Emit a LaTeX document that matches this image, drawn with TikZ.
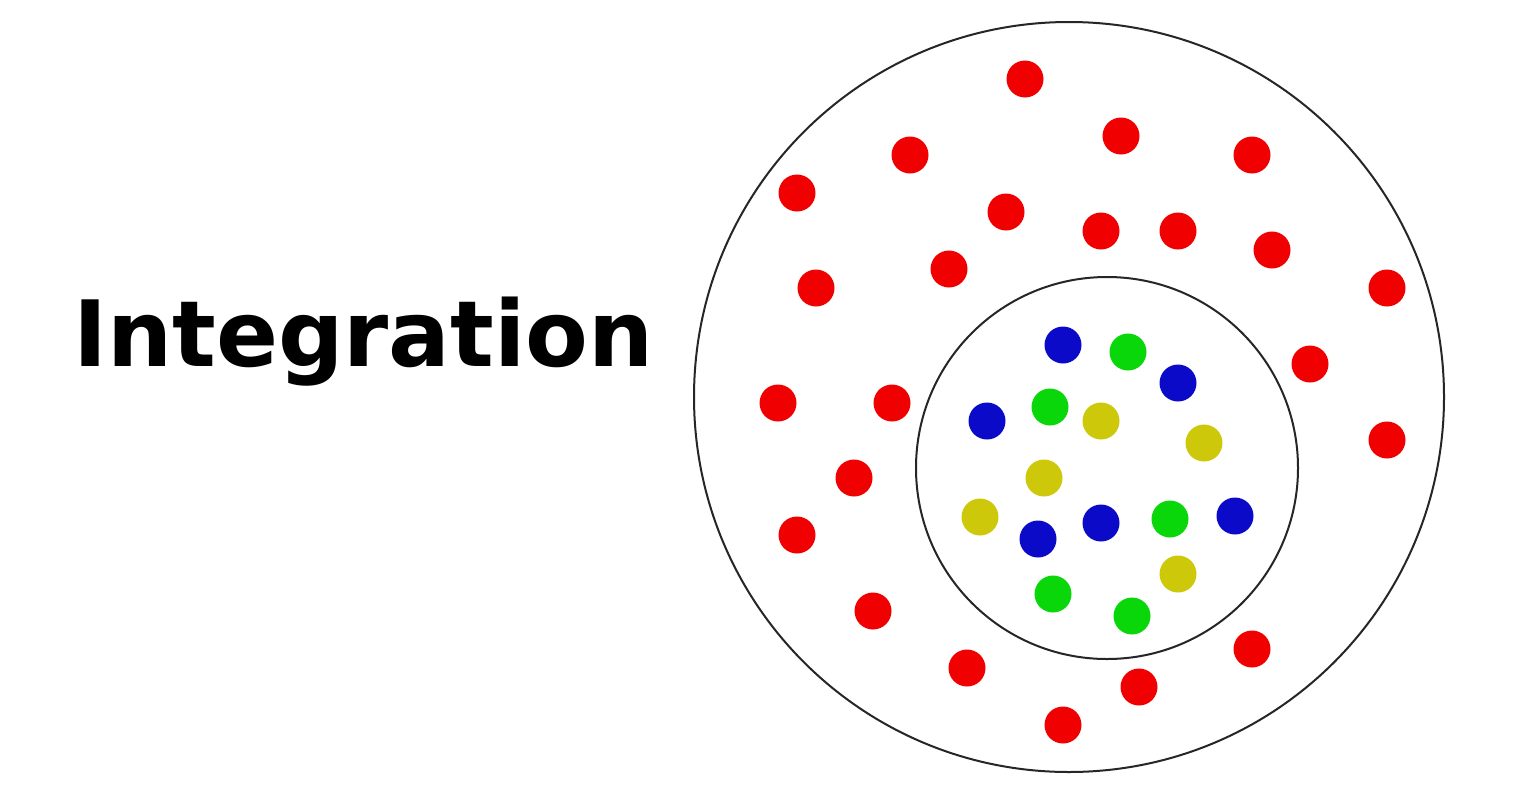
\documentclass[tikz,border=0pt]{standalone}
\usepackage{fontspec}
\newfontfamily\labelfont{DejaVu Sans}
\definecolor{dred}{RGB}{240,0,0}
\definecolor{dblue}{RGB}{10,10,200}
\definecolor{dgreen}{RGB}{10,215,10}
\definecolor{dyellow}{RGB}{205,200,10}
\tikzset{
  ring/.style={draw=black!85, line width=2pt},
  rdot/.style={circle, fill=dred, minimum size=37pt, inner sep=0pt},
  bdot/.style={circle, fill=dblue, minimum size=37pt, inner sep=0pt},
  gdot/.style={circle, fill=dgreen, minimum size=37pt, inner sep=0pt},
  ydot/.style={circle, fill=dyellow, minimum size=37pt, inner sep=0pt},
}
\begin{document}
\begin{tikzpicture}[x=1pt,y=-1pt]
\useasboundingbox[fill=white] (0,0) rectangle (1520,798);
\node[anchor=base west, inner sep=0pt, font=\labelfont\bfseries\fontsize{91.5}{100}\selectfont] (title) at (73,366) {Integration};
\draw[ring] (1069,397) ellipse [x radius=375, y radius=375];
\draw[ring] (1107,468) circle [radius=191];
% red
\foreach \x/\y [count=\i] in {1025/79,1121/136,910/155,1252/155,797/193,1006/212,1101/231,1178/231,1272/250,949/269,816/288,1387/288,1310/364,778/403,892/403,1387/440,854/478,797/535,873/611,1252/649,967/668,1139/687,1063/725}
  \node[rdot] (r\i) at (\x,\y) {};
% blue
\foreach \x/\y [count=\i] in {1063/345,1178/383,987/421,1101/523,1038/539,1235/516}
  \node[bdot] (b\i) at (\x,\y) {};
% green
\foreach \x/\y [count=\i] in {1128/352,1050/407,1170/519,1053/594,1132/616}
  \node[gdot] (g\i) at (\x,\y) {};
% yellow
\foreach \x/\y [count=\i] in {1101/421,1204/443,1044/478,980/517,1178/574}
  \node[ydot] (y\i) at (\x,\y) {};
\end{tikzpicture}
\end{document}
